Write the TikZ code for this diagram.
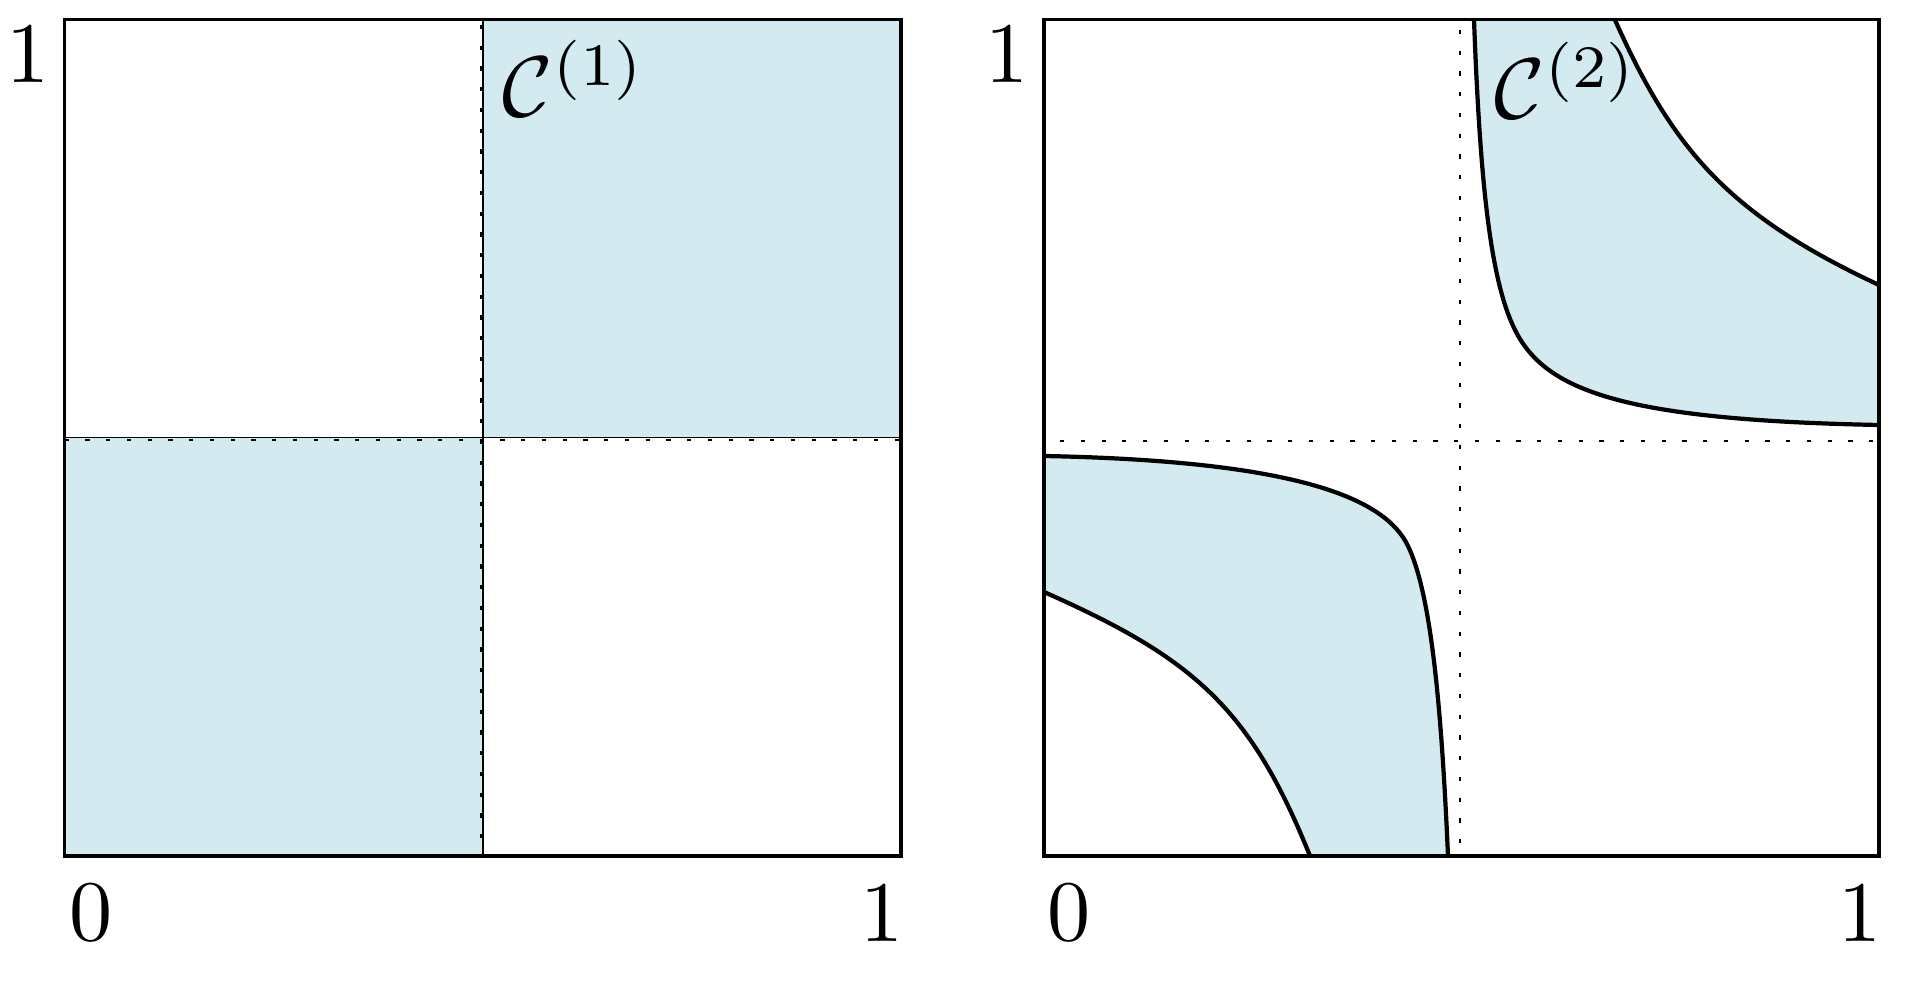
\documentclass[tikz,border=0pt]{standalone}
\usepackage{amsmath}
\begin{document}
\begin{tikzpicture}[x=0.01cm,y=-0.01cm,
  lab/.style={inner sep=0pt,font=\normalsize,scale=2.45},
  frame/.style={line width=1pt},
  curve/.style={line width=1.2pt},
  thinline/.style={line width=0.4pt},
  dsh/.style={line width=0.6pt,dash pattern=on 1.2pt off 4.7pt}]
\definecolor{cfill}{RGB}{211,234,240}
\useasboundingbox (0,0) rectangle (1912,1004);
% ---------- left square ----------
\fill[cfill] (64.6,437.8) rectangle (483,856);
\fill[cfill] (483,19.5) rectangle (901,437.8);
\draw[thinline] (483,19.5) -- (483,856);
\draw[thinline] (64.6,437.8) -- (901,437.8);
\draw[dsh] (481,25) -- (481,856);
\draw[dsh] (64.6,440) -- (901,440);
\draw[frame] (64.6,19.5) rectangle (901,856);
% ---------- right square ----------
\fill[cfill] (1474,20) .. controls (1480,180) and (1490,280) .. (1515,330)
  .. controls (1545,390) and (1620,420) .. (1879,425) -- (1879,285)
  .. controls (1729,215) and (1673,150) .. (1615,20) -- cycle;
\fill[cfill] (1044,456) .. controls (1303,461) and (1386,500) .. (1408,546)
  .. controls (1430,592) and (1441,696) .. (1448,856) -- (1310,856)
  .. controls (1250,707) and (1193,658) .. (1044,592) -- cycle;
\draw[dsh] (1460,30) -- (1460,852);
\draw[dsh] (1060,441) -- (1879,441);
\draw[curve] (1474,20) .. controls (1480,180) and (1490,280) .. (1515,330)
  .. controls (1545,390) and (1620,420) .. (1879,425);
\draw[curve] (1879,285) .. controls (1729,215) and (1673,150) .. (1615,20);
\draw[curve] (1044,456) .. controls (1303,461) and (1386,500) .. (1408,546)
  .. controls (1430,592) and (1441,696) .. (1448,856);
\draw[curve] (1310,856) .. controls (1250,707) and (1193,658) .. (1044,592);
\draw[line width=1.4pt] (1310,856) -- (1448,856);
\draw[frame] (1044,19.5) rectangle (1879,856);
% ---------- labels ----------
\node[lab] (y1a) at (28,54) {1};
\node[lab] (x0a) at (91,913) {0};
\node[lab] (x1a) at (882,913) {1};
\node[lab] (y1b) at (1007,54) {1};
\node[lab] (x0b) at (1069,913) {0};
\node[lab] (x1b) at (1860,913) {1};
\node[lab,anchor=base west] (c1) at (501,117) {$\mathcal{C}^{(1)}$};
\node[lab,anchor=base west] (c2) at (1493,119) {$\mathcal{C}^{(2)}$};
\end{tikzpicture}
\end{document}
